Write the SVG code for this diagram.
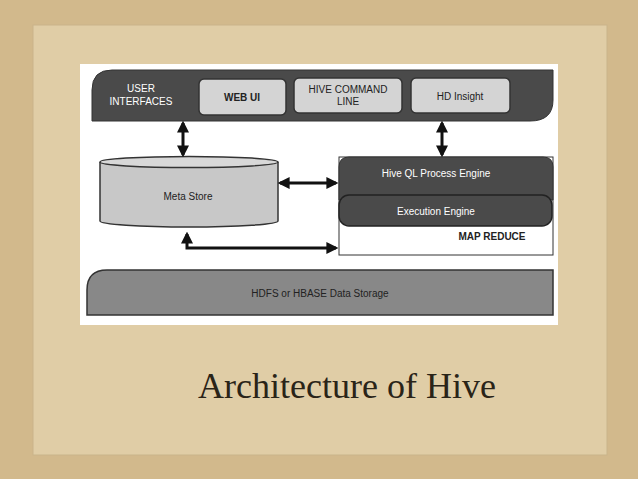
<svg xmlns="http://www.w3.org/2000/svg" width="638" height="479" viewBox="0 0 638 479">
<defs>
<style>
.lt{font-family:"Liberation Sans",Arial,sans-serif;font-size:10px;fill:#fff;text-anchor:middle}
.dk{font-family:"Liberation Sans",Arial,sans-serif;font-size:10px;fill:#222;text-anchor:middle}
.btn{fill:#d4d4d4;stroke:#333;stroke-width:1.5}
.con{stroke:#111;stroke-width:3;fill:none}
</style>
<marker id="ah" viewBox="0 0 10 10" refX="8" refY="5" markerWidth="4" markerHeight="4" orient="auto-start-reverse"><path d="M0,0L10,5L0,10z" fill="#111"/></marker>
</defs>
<rect width="638" height="479" fill="#d2b98c"/>
<rect x="33" y="25" width="574" height="430" fill="#e0cda6" stroke="#c9b48a"/>
<rect x="80" y="64" width="478" height="261" fill="#fff"/>
<g id="ui">
<path d="M112,70H553V100Q553,121 530,121H92V90Q92,70 112,70Z" fill="#4a4a4a" stroke="#333"/>
<text class="lt" x="141" y="92">USER</text><text class="lt" x="141" y="105">INTERFACES</text>
</g>
<g id="webui"><rect class="btn" x="199" y="79" width="87" height="36" rx="5"/><text class="dk" x="242" y="101" font-weight="bold">WEB UI</text></g>
<g id="cli"><rect class="btn" x="294" y="78" width="108" height="35" rx="5"/><text class="dk" x="348" y="93">HIVE COMMAND</text><text class="dk" x="348" y="105">LINE</text></g>
<g id="hdi"><rect class="btn" x="411" y="78" width="99" height="35" rx="5"/><text class="dk" x="460" y="100">HD Insight</text></g>
<g id="meta">
<path d="M100,162V221A89,6 0 0 0 278,221V162" fill="#c8c8c8" stroke="#333" stroke-width="1.5"/>
<ellipse cx="189" cy="162" rx="89" ry="5.5" fill="#d8d8d8" stroke="#333" stroke-width="1.5"/>
<text class="dk" x="188" y="200">Meta Store</text>
</g>
<g id="engine">
<rect x="339" y="157" width="214" height="98" fill="#fff" stroke="#333"/>
<path d="M349,157H543Q553,157 553,167V200H339V167Q339,157 349,157Z" fill="#4a4a4a" stroke="#333"/>
<text class="lt" x="436" y="177">Hive QL Process Engine</text>
<rect x="339" y="195" width="213" height="31" rx="10" fill="#4a4a4a" stroke="#222" stroke-width="1.5"/>
<text class="lt" x="436" y="215">Execution Engine</text>
<text class="dk" x="492" y="240" font-weight="bold">MAP REDUCE</text>
</g>
<g id="storage">
<path d="M107,270H553V315H87V290Q87,270 107,270Z" fill="#888" stroke="#333" stroke-width="1.5"/>
<text class="dk" x="320" y="297">HDFS or HBASE Data Storage</text>
</g>
<g id="connectors">
<line class="con" x1="183" y1="123" x2="183" y2="155" marker-start="url(#ah)" marker-end="url(#ah)"/>
<line class="con" x1="442" y1="123" x2="442" y2="155" marker-start="url(#ah)" marker-end="url(#ah)"/>
<line class="con" x1="280" y1="183" x2="336" y2="183" marker-start="url(#ah)" marker-end="url(#ah)"/>
<path class="con" d="M187,234V248H336" marker-start="url(#ah)" marker-end="url(#ah)"/>
</g>
<text x="347" y="398" font-family="'Liberation Serif',serif" font-size="36" fill="#2a2418" text-anchor="middle">Architecture of Hive</text>
</svg>
